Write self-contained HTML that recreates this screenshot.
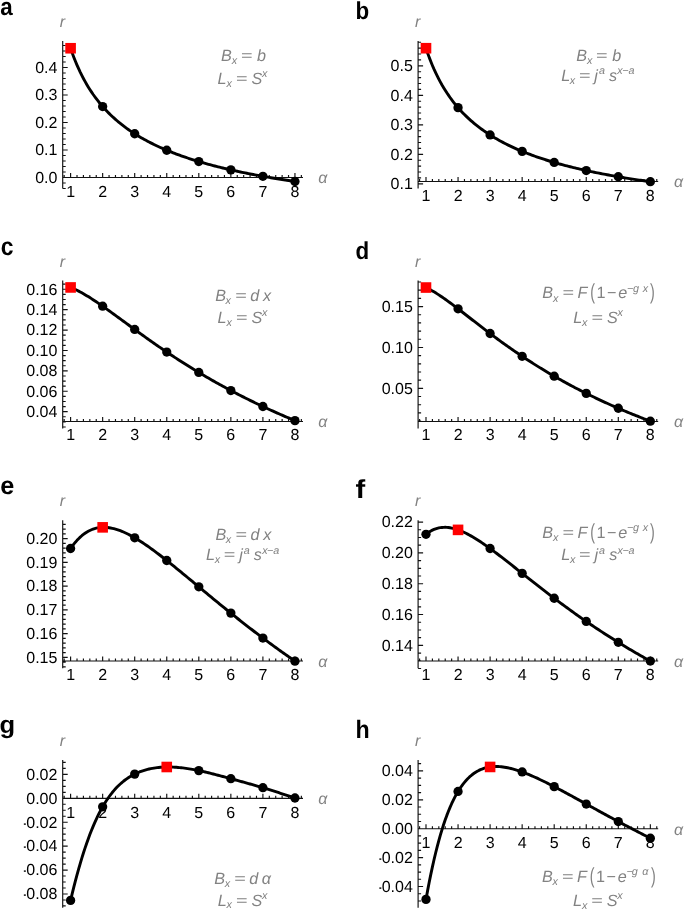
<!DOCTYPE html>
<html><head><meta charset="utf-8"><title>Figure</title>
<style>
html,body{margin:0;padding:0;background:#fff;}
svg{display:block;text-rendering:geometricPrecision;}
text{font-family:"Liberation Sans", Arial, Helvetica, sans-serif;}
.t{font-size:16.0px;fill:#000;}
.al{font-size:16px;fill:#828282;font-style:italic;}
.g{font-size:16.2px;fill:#828282;font-style:italic;}
.gu{font-size:16.2px;fill:#828282;}
.gs{font-size:10.8px;fill:#828282;font-style:italic;}
.L{font-size:24.6px;font-weight:bold;fill:#000;}
.ax{stroke:#111;stroke-width:1.15;fill:none;}
.cv{stroke:#000;stroke-width:2.9;fill:none;stroke-linejoin:round;stroke-linecap:round;}
</style></head><body>
<svg width="685" height="910" viewBox="0 0 685 910">
<rect width="685" height="910" fill="#fff"/>
<g>
<text class="L" style="font-size:24.6px" transform="translate(0.3,14.9) scale(0.91,1)">a</text>
<path class="ax" d="M62.7 40.9V188.6 M62.150000000000006 177.5H303.0 M64.19 177.5v-2.5 M70.60 177.5v-4.5 M77.01 177.5v-2.5 M83.42 177.5v-2.5 M89.83 177.5v-2.5 M96.24 177.5v-2.5 M102.65 177.5v-4.5 M109.06 177.5v-2.5 M115.47 177.5v-2.5 M121.88 177.5v-2.5 M128.29 177.5v-2.5 M134.70 177.5v-4.5 M141.11 177.5v-2.5 M147.52 177.5v-2.5 M153.93 177.5v-2.5 M160.34 177.5v-2.5 M166.75 177.5v-4.5 M173.16 177.5v-2.5 M179.57 177.5v-2.5 M185.98 177.5v-2.5 M192.39 177.5v-2.5 M198.80 177.5v-4.5 M205.21 177.5v-2.5 M211.62 177.5v-2.5 M218.03 177.5v-2.5 M224.44 177.5v-2.5 M230.85 177.5v-4.5 M237.26 177.5v-2.5 M243.67 177.5v-2.5 M250.08 177.5v-2.5 M256.49 177.5v-2.5 M262.90 177.5v-4.5 M269.31 177.5v-2.5 M275.72 177.5v-2.5 M282.13 177.5v-2.5 M288.54 177.5v-2.5 M294.95 177.5v-4.5 M301.36 177.5v-2.5 M62.7 188.50h3.0 M62.7 183.00h3.0 M62.7 177.50h5.0 M62.7 172.00h3.0 M62.7 166.50h3.0 M62.7 161.00h3.0 M62.7 155.50h3.0 M62.7 150.00h5.0 M62.7 144.50h3.0 M62.7 139.00h3.0 M62.7 133.50h3.0 M62.7 128.00h3.0 M62.7 122.50h5.0 M62.7 117.00h3.0 M62.7 111.50h3.0 M62.7 106.00h3.0 M62.7 100.50h3.0 M62.7 95.00h5.0 M62.7 89.50h3.0 M62.7 84.00h3.0 M62.7 78.50h3.0 M62.7 73.00h3.0 M62.7 67.50h5.0 M62.7 62.00h3.0 M62.7 56.50h3.0 M62.7 51.00h3.0 M62.7 45.50h3.0"/>
<text class="t" text-anchor="end" x="57.4" y="182.80">0.0</text>
<text class="t" text-anchor="end" x="57.4" y="155.30">0.1</text>
<text class="t" text-anchor="end" x="57.4" y="127.80">0.2</text>
<text class="t" text-anchor="end" x="57.4" y="100.30">0.3</text>
<text class="t" text-anchor="end" x="57.4" y="72.80">0.4</text>
<text class="t" text-anchor="middle" x="70.6" y="197">1</text>
<text class="t" text-anchor="middle" x="102.6" y="197">2</text>
<text class="t" text-anchor="middle" x="134.7" y="197">3</text>
<text class="t" text-anchor="middle" x="166.8" y="197">4</text>
<text class="t" text-anchor="middle" x="198.8" y="197">5</text>
<text class="t" text-anchor="middle" x="230.8" y="197">6</text>
<text class="t" text-anchor="middle" x="262.9" y="197">7</text>
<text class="t" text-anchor="middle" x="294.9" y="197">8</text>
<text class="al" text-anchor="middle" x="62.3" y="27">r</text>
<text class="al" text-anchor="middle" x="322.9" y="183.4">&#945;</text>
<text class="g" x="221.11" y="61">B</text>
<text class="gs" x="231.73" y="64">x</text>
<text class="gu" style="font-size:14.0px" transform="translate(240.91,60.10) scale(1.42,1.0)">=</text>
<text class="g" x="256.96" y="61">b</text>
<text class="g" x="217.61" y="84">L</text>
<text class="gs" x="226.48" y="87">x</text>
<text class="gu" style="font-size:14.0px" transform="translate(235.91,83.10) scale(1.42,1.0)">=</text>
<text class="g" x="251.40" y="84">S</text>
<text class="gs" x="261.88" y="77">x</text>
<path class="cv" d="M70.60 48.25 L72.20 52.86 L73.80 57.18 L75.41 61.25 L77.01 65.08 L78.61 68.70 L80.21 72.12 L81.82 75.37 L83.42 78.46 L85.02 81.40 L86.62 84.20 L88.23 86.88 L89.83 89.44 L91.43 91.89 L93.03 94.24 L94.64 96.49 L96.24 98.65 L97.84 100.74 L99.44 102.74 L101.05 104.67 L102.65 106.53 L104.25 108.33 L105.85 110.06 L107.46 111.74 L109.06 113.37 L110.66 114.94 L112.26 116.46 L113.87 117.94 L115.47 119.37 L117.07 120.76 L118.67 122.11 L120.28 123.42 L121.88 124.69 L123.48 125.93 L125.08 127.14 L126.69 128.31 L128.29 129.45 L129.89 130.57 L131.50 131.65 L133.10 132.71 L134.70 133.75 L136.30 134.76 L137.90 135.74 L139.51 136.70 L141.11 137.64 L142.71 138.56 L144.31 139.46 L145.92 140.34 L147.52 141.20 L149.12 142.04 L150.72 142.86 L152.33 143.67 L153.93 144.46 L155.53 145.23 L157.13 145.99 L158.74 146.73 L160.34 147.46 L161.94 148.17 L163.55 148.87 L165.15 149.56 L166.75 150.24 L168.35 150.90 L169.95 151.55 L171.56 152.19 L173.16 152.81 L174.76 153.43 L176.37 154.04 L177.97 154.63 L179.57 155.22 L181.17 155.79 L182.77 156.36 L184.38 156.91 L185.98 157.46 L187.58 158.00 L189.19 158.53 L190.79 159.05 L192.39 159.56 L193.99 160.07 L195.59 160.56 L197.20 161.05 L198.80 161.53 L200.40 162.01 L202.00 162.48 L203.61 162.94 L205.21 163.39 L206.81 163.84 L208.41 164.28 L210.02 164.72 L211.62 165.15 L213.22 165.57 L214.82 165.99 L216.43 166.40 L218.03 166.80 L219.63 167.20 L221.23 167.60 L222.84 167.99 L224.44 168.37 L226.04 168.75 L227.64 169.13 L229.25 169.50 L230.85 169.86 L232.45 170.22 L234.06 170.58 L235.66 170.93 L237.26 171.28 L238.86 171.62 L240.47 171.96 L242.07 172.30 L243.67 172.63 L245.27 172.95 L246.87 173.28 L248.48 173.60 L250.08 173.91 L251.68 174.22 L253.28 174.53 L254.89 174.84 L256.49 175.14 L258.09 175.44 L259.69 175.73 L261.30 176.02 L262.90 176.31 L264.50 176.59 L266.11 176.88 L267.71 177.16 L269.31 177.43 L270.91 177.70 L272.51 177.97 L274.12 178.24 L275.72 178.51 L277.32 178.77 L278.92 179.03 L280.53 179.28 L282.13 179.54 L283.73 179.79 L285.33 180.04 L286.94 180.28 L288.54 180.53 L290.14 180.77 L291.75 181.01 L293.35 181.24 L294.95 181.48"/>
<rect x="65.30" y="42.95" width="10.6" height="10.6" fill="#ff0000"/>
<circle cx="102.65" cy="106.53" r="4.65" fill="#000"/>
<circle cx="134.70" cy="133.75" r="4.65" fill="#000"/>
<circle cx="166.75" cy="150.24" r="4.65" fill="#000"/>
<circle cx="198.80" cy="161.53" r="4.65" fill="#000"/>
<circle cx="230.85" cy="169.86" r="4.65" fill="#000"/>
<circle cx="262.90" cy="176.31" r="4.65" fill="#000"/>
<circle cx="294.95" cy="181.48" r="4.65" fill="#000"/>
</g>
<g>
<text class="L" style="font-size:24.6px" transform="translate(355.5,19.4) scale(0.91,1)">b</text>
<path class="ax" d="M418.1 40.9V188.6 M417.55 181.5H658.2 M419.59 181.5v-2.5 M426.00 181.5v-4.5 M432.41 181.5v-2.5 M438.82 181.5v-2.5 M445.23 181.5v-2.5 M451.64 181.5v-2.5 M458.05 181.5v-4.5 M464.46 181.5v-2.5 M470.87 181.5v-2.5 M477.28 181.5v-2.5 M483.69 181.5v-2.5 M490.10 181.5v-4.5 M496.51 181.5v-2.5 M502.92 181.5v-2.5 M509.33 181.5v-2.5 M515.74 181.5v-2.5 M522.15 181.5v-4.5 M528.56 181.5v-2.5 M534.97 181.5v-2.5 M541.38 181.5v-2.5 M547.79 181.5v-2.5 M554.20 181.5v-4.5 M560.61 181.5v-2.5 M567.02 181.5v-2.5 M573.43 181.5v-2.5 M579.84 181.5v-2.5 M586.25 181.5v-4.5 M592.66 181.5v-2.5 M599.07 181.5v-2.5 M605.48 181.5v-2.5 M611.89 181.5v-2.5 M618.30 181.5v-4.5 M624.71 181.5v-2.5 M631.12 181.5v-2.5 M637.53 181.5v-2.5 M643.94 181.5v-2.5 M650.35 181.5v-4.5 M656.76 181.5v-2.5 M418.1 183.80h5.0 M418.1 177.90h3.0 M418.1 172.00h3.0 M418.1 166.10h3.0 M418.1 160.20h3.0 M418.1 154.30h5.0 M418.1 148.40h3.0 M418.1 142.50h3.0 M418.1 136.60h3.0 M418.1 130.70h3.0 M418.1 124.80h5.0 M418.1 118.90h3.0 M418.1 113.00h3.0 M418.1 107.10h3.0 M418.1 101.20h3.0 M418.1 95.30h5.0 M418.1 89.40h3.0 M418.1 83.50h3.0 M418.1 77.60h3.0 M418.1 71.70h3.0 M418.1 65.80h5.0 M418.1 59.90h3.0 M418.1 54.00h3.0 M418.1 48.10h3.0 M418.1 42.20h3.0"/>
<text class="t" text-anchor="end" x="412.8" y="189.10">0.1</text>
<text class="t" text-anchor="end" x="412.8" y="159.60">0.2</text>
<text class="t" text-anchor="end" x="412.8" y="130.10">0.3</text>
<text class="t" text-anchor="end" x="412.8" y="100.60">0.4</text>
<text class="t" text-anchor="end" x="412.8" y="71.10">0.5</text>
<text class="t" text-anchor="middle" x="426.0" y="201">1</text>
<text class="t" text-anchor="middle" x="458.1" y="201">2</text>
<text class="t" text-anchor="middle" x="490.1" y="201">3</text>
<text class="t" text-anchor="middle" x="522.1" y="201">4</text>
<text class="t" text-anchor="middle" x="554.2" y="201">5</text>
<text class="t" text-anchor="middle" x="586.2" y="201">6</text>
<text class="t" text-anchor="middle" x="618.3" y="201">7</text>
<text class="t" text-anchor="middle" x="650.3" y="201">8</text>
<text class="al" text-anchor="middle" x="417.7" y="27">r</text>
<text class="al" text-anchor="middle" x="678.5" y="187.4">&#945;</text>
<text class="g" x="576.31" y="61">B</text>
<text class="gs" x="586.93" y="64">x</text>
<text class="gu" style="font-size:14.0px" transform="translate(596.11,60.10) scale(1.42,1.0)">=</text>
<text class="g" x="612.16" y="61">b</text>
<text class="g" x="561.21" y="81">L</text>
<text class="gs" x="569.83" y="84">x</text>
<text class="gu" style="font-size:14.0px" transform="translate(579.01,80.10) scale(1.42,1.0)">=</text>
<text class="g" x="594.33" y="81">j</text>
<text class="gs" x="598.96" y="74">a</text>
<text class="g" x="609.05" y="81">s</text>
<text class="gs" x="617.33" y="74">x</text>
<text class="gs" x="622.30" y="74">&#8722;</text>
<text class="gs" x="628.46" y="74">a</text>
<path class="cv" d="M426.00 48.21 L427.60 52.94 L429.20 57.38 L430.81 61.54 L432.41 65.46 L434.01 69.16 L435.62 72.66 L437.22 75.98 L438.82 79.13 L440.42 82.12 L442.02 84.98 L443.63 87.70 L445.23 90.30 L446.83 92.79 L448.44 95.17 L450.04 97.46 L451.64 99.65 L453.24 101.76 L454.84 103.79 L456.45 105.74 L458.05 107.63 L459.65 109.44 L461.25 111.19 L462.86 112.89 L464.46 114.52 L466.06 116.11 L467.66 117.64 L469.27 119.12 L470.87 120.56 L472.47 121.96 L474.07 123.32 L475.68 124.63 L477.28 125.91 L478.88 127.15 L480.49 128.36 L482.09 129.54 L483.69 130.68 L485.29 131.79 L486.89 132.88 L488.50 133.94 L490.10 134.97 L491.70 135.98 L493.31 136.96 L494.91 137.92 L496.51 138.85 L498.11 139.77 L499.72 140.66 L501.32 141.53 L502.92 142.39 L504.52 143.22 L506.12 144.04 L507.73 144.84 L509.33 145.62 L510.93 146.39 L512.53 147.14 L514.14 147.87 L515.74 148.59 L517.34 149.30 L518.95 149.99 L520.55 150.67 L522.15 151.34 L523.75 151.99 L525.36 152.63 L526.96 153.26 L528.56 153.88 L530.16 154.48 L531.76 155.08 L533.37 155.66 L534.97 156.24 L536.57 156.80 L538.17 157.36 L539.78 157.90 L541.38 158.44 L542.98 158.97 L544.59 159.49 L546.19 160.00 L547.79 160.50 L549.39 160.99 L551.00 161.48 L552.60 161.96 L554.20 162.43 L555.80 162.89 L557.40 163.35 L559.01 163.80 L560.61 164.24 L562.21 164.68 L563.81 165.11 L565.42 165.53 L567.02 165.95 L568.62 166.36 L570.23 166.77 L571.83 167.17 L573.43 167.56 L575.03 167.95 L576.63 168.33 L578.24 168.71 L579.84 169.08 L581.44 169.45 L583.04 169.82 L584.65 170.17 L586.25 170.53 L587.85 170.88 L589.46 171.22 L591.06 171.56 L592.66 171.89 L594.26 172.23 L595.87 172.55 L597.47 172.88 L599.07 173.19 L600.67 173.51 L602.27 173.82 L603.88 174.13 L605.48 174.43 L607.08 174.73 L608.68 175.03 L610.29 175.32 L611.89 175.61 L613.49 175.90 L615.10 176.18 L616.70 176.46 L618.30 176.74 L619.90 177.01 L621.50 177.28 L623.11 177.55 L624.71 177.81 L626.31 178.07 L627.91 178.33 L629.52 178.58 L631.12 178.84 L632.72 179.09 L634.33 179.33 L635.93 179.58 L637.53 179.82 L639.13 180.06 L640.74 180.30 L642.34 180.53 L643.94 180.76 L645.54 180.99 L647.14 181.22 L648.75 181.44 L650.35 181.67"/>
<rect x="420.70" y="42.91" width="10.6" height="10.6" fill="#ff0000"/>
<circle cx="458.05" cy="107.63" r="4.65" fill="#000"/>
<circle cx="490.10" cy="134.97" r="4.65" fill="#000"/>
<circle cx="522.15" cy="151.34" r="4.65" fill="#000"/>
<circle cx="554.20" cy="162.43" r="4.65" fill="#000"/>
<circle cx="586.25" cy="170.53" r="4.65" fill="#000"/>
<circle cx="618.30" cy="176.74" r="4.65" fill="#000"/>
<circle cx="650.35" cy="181.67" r="4.65" fill="#000"/>
</g>
<g>
<text class="L" style="font-size:25.2px" transform="translate(0.8,254.6) scale(0.91,1)">c</text>
<path class="ax" d="M62.7 280.4V428.6 M62.150000000000006 421.5H303.0 M64.19 421.5v-2.5 M70.60 421.5v-4.5 M77.01 421.5v-2.5 M83.42 421.5v-2.5 M89.83 421.5v-2.5 M96.24 421.5v-2.5 M102.65 421.5v-4.5 M109.06 421.5v-2.5 M115.47 421.5v-2.5 M121.88 421.5v-2.5 M128.29 421.5v-2.5 M134.70 421.5v-4.5 M141.11 421.5v-2.5 M147.52 421.5v-2.5 M153.93 421.5v-2.5 M160.34 421.5v-2.5 M166.75 421.5v-4.5 M173.16 421.5v-2.5 M179.57 421.5v-2.5 M185.98 421.5v-2.5 M192.39 421.5v-2.5 M198.80 421.5v-4.5 M205.21 421.5v-2.5 M211.62 421.5v-2.5 M218.03 421.5v-2.5 M224.44 421.5v-2.5 M230.85 421.5v-4.5 M237.26 421.5v-2.5 M243.67 421.5v-2.5 M250.08 421.5v-2.5 M256.49 421.5v-2.5 M262.90 421.5v-4.5 M269.31 421.5v-2.5 M275.72 421.5v-2.5 M282.13 421.5v-2.5 M288.54 421.5v-2.5 M294.95 421.5v-4.5 M301.36 421.5v-2.5 M62.7 426.96h3.0 M62.7 421.86h3.0 M62.7 416.76h3.0 M62.7 411.66h5.0 M62.7 406.56h3.0 M62.7 401.46h3.0 M62.7 396.36h3.0 M62.7 391.26h5.0 M62.7 386.16h3.0 M62.7 381.06h3.0 M62.7 375.96h3.0 M62.7 370.86h5.0 M62.7 365.76h3.0 M62.7 360.66h3.0 M62.7 355.56h3.0 M62.7 350.46h5.0 M62.7 345.36h3.0 M62.7 340.26h3.0 M62.7 335.16h3.0 M62.7 330.06h5.0 M62.7 324.96h3.0 M62.7 319.86h3.0 M62.7 314.76h3.0 M62.7 309.66h5.0 M62.7 304.56h3.0 M62.7 299.46h3.0 M62.7 294.36h3.0 M62.7 289.26h5.0 M62.7 284.16h3.0"/>
<text class="t" text-anchor="end" x="57.4" y="416.96">0.04</text>
<text class="t" text-anchor="end" x="57.4" y="396.56">0.06</text>
<text class="t" text-anchor="end" x="57.4" y="376.16">0.08</text>
<text class="t" text-anchor="end" x="57.4" y="355.76">0.10</text>
<text class="t" text-anchor="end" x="57.4" y="335.36">0.12</text>
<text class="t" text-anchor="end" x="57.4" y="314.96">0.14</text>
<text class="t" text-anchor="end" x="57.4" y="294.56">0.16</text>
<text class="t" text-anchor="middle" x="70.6" y="440">1</text>
<text class="t" text-anchor="middle" x="102.6" y="440">2</text>
<text class="t" text-anchor="middle" x="134.7" y="440">3</text>
<text class="t" text-anchor="middle" x="166.8" y="440">4</text>
<text class="t" text-anchor="middle" x="198.8" y="440">5</text>
<text class="t" text-anchor="middle" x="230.8" y="440">6</text>
<text class="t" text-anchor="middle" x="262.9" y="440">7</text>
<text class="t" text-anchor="middle" x="294.9" y="440">8</text>
<text class="al" text-anchor="middle" x="62.3" y="267">r</text>
<text class="al" text-anchor="middle" x="322.9" y="427.4">&#945;</text>
<text class="g" x="215.31" y="301">B</text>
<text class="gs" x="225.53" y="304">x</text>
<text class="gu" style="font-size:14.0px" transform="translate(235.21,300.10) scale(1.42,1.0)">=</text>
<text class="g" x="250.27" y="301">d</text>
<text class="g" x="262.95" y="301">x</text>
<text class="g" x="217.61" y="323">L</text>
<text class="gs" x="226.48" y="326">x</text>
<text class="gu" style="font-size:14.0px" transform="translate(235.91,322.10) scale(1.42,1.0)">=</text>
<text class="g" x="251.40" y="323">S</text>
<text class="gs" x="261.88" y="316">x</text>
<path class="cv" d="M70.60 287.45 L72.20 288.11 L73.80 288.80 L75.41 289.54 L77.01 290.32 L78.61 291.13 L80.21 291.97 L81.82 292.84 L83.42 293.75 L85.02 294.68 L86.62 295.63 L88.23 296.61 L89.83 297.60 L91.43 298.62 L93.03 299.66 L94.64 300.71 L96.24 301.78 L97.84 302.86 L99.44 303.96 L101.05 305.06 L102.65 306.18 L104.25 307.31 L105.85 308.44 L107.46 309.59 L109.06 310.73 L110.66 311.89 L112.26 313.05 L113.87 314.22 L115.47 315.38 L117.07 316.55 L118.67 317.73 L120.28 318.90 L121.88 320.08 L123.48 321.26 L125.08 322.43 L126.69 323.61 L128.29 324.79 L129.89 325.96 L131.50 327.13 L133.10 328.30 L134.70 329.47 L136.30 330.64 L137.90 331.80 L139.51 332.96 L141.11 334.12 L142.71 335.28 L144.31 336.43 L145.92 337.57 L147.52 338.71 L149.12 339.85 L150.72 340.98 L152.33 342.11 L153.93 343.24 L155.53 344.36 L157.13 345.47 L158.74 346.58 L160.34 347.68 L161.94 348.78 L163.55 349.87 L165.15 350.96 L166.75 352.04 L168.35 353.12 L169.95 354.19 L171.56 355.25 L173.16 356.31 L174.76 357.36 L176.37 358.41 L177.97 359.45 L179.57 360.48 L181.17 361.51 L182.77 362.54 L184.38 363.56 L185.98 364.57 L187.58 365.57 L189.19 366.57 L190.79 367.57 L192.39 368.55 L193.99 369.54 L195.59 370.51 L197.20 371.48 L198.80 372.45 L200.40 373.41 L202.00 374.36 L203.61 375.31 L205.21 376.25 L206.81 377.18 L208.41 378.11 L210.02 379.04 L211.62 379.95 L213.22 380.87 L214.82 381.77 L216.43 382.67 L218.03 383.57 L219.63 384.46 L221.23 385.34 L222.84 386.22 L224.44 387.10 L226.04 387.96 L227.64 388.83 L229.25 389.68 L230.85 390.53 L232.45 391.38 L234.06 392.22 L235.66 393.06 L237.26 393.89 L238.86 394.71 L240.47 395.54 L242.07 396.35 L243.67 397.16 L245.27 397.97 L246.87 398.77 L248.48 399.56 L250.08 400.35 L251.68 401.14 L253.28 401.92 L254.89 402.70 L256.49 403.47 L258.09 404.23 L259.69 405.00 L261.30 405.75 L262.90 406.50 L264.50 407.25 L266.11 408.00 L267.71 408.74 L269.31 409.47 L270.91 410.20 L272.51 410.93 L274.12 411.65 L275.72 412.36 L277.32 413.08 L278.92 413.79 L280.53 414.49 L282.13 415.19 L283.73 415.89 L285.33 416.58 L286.94 417.26 L288.54 417.95 L290.14 418.63 L291.75 419.30 L293.35 419.97 L294.95 420.64"/>
<rect x="65.30" y="282.15" width="10.6" height="10.6" fill="#ff0000"/>
<circle cx="102.65" cy="306.18" r="4.65" fill="#000"/>
<circle cx="134.70" cy="329.47" r="4.65" fill="#000"/>
<circle cx="166.75" cy="352.04" r="4.65" fill="#000"/>
<circle cx="198.80" cy="372.45" r="4.65" fill="#000"/>
<circle cx="230.85" cy="390.53" r="4.65" fill="#000"/>
<circle cx="262.90" cy="406.50" r="4.65" fill="#000"/>
<circle cx="294.95" cy="420.64" r="4.65" fill="#000"/>
</g>
<g>
<text class="L" style="font-size:24.6px" transform="translate(355.5,259.4) scale(0.91,1)">d</text>
<path class="ax" d="M418.1 280.4V428.6 M417.55 421.5H658.2 M419.59 421.5v-2.5 M426.00 421.5v-4.5 M432.41 421.5v-2.5 M438.82 421.5v-2.5 M445.23 421.5v-2.5 M451.64 421.5v-2.5 M458.05 421.5v-4.5 M464.46 421.5v-2.5 M470.87 421.5v-2.5 M477.28 421.5v-2.5 M483.69 421.5v-2.5 M490.10 421.5v-4.5 M496.51 421.5v-2.5 M502.92 421.5v-2.5 M509.33 421.5v-2.5 M515.74 421.5v-2.5 M522.15 421.5v-4.5 M528.56 421.5v-2.5 M534.97 421.5v-2.5 M541.38 421.5v-2.5 M547.79 421.5v-2.5 M554.20 421.5v-4.5 M560.61 421.5v-2.5 M567.02 421.5v-2.5 M573.43 421.5v-2.5 M579.84 421.5v-2.5 M586.25 421.5v-4.5 M592.66 421.5v-2.5 M599.07 421.5v-2.5 M605.48 421.5v-2.5 M611.89 421.5v-2.5 M618.30 421.5v-4.5 M624.71 421.5v-2.5 M631.12 421.5v-2.5 M637.53 421.5v-2.5 M643.94 421.5v-2.5 M650.35 421.5v-4.5 M656.76 421.5v-2.5 M418.1 421.07h3.0 M418.1 412.89h3.0 M418.1 404.71h3.0 M418.1 396.53h3.0 M418.1 388.35h5.0 M418.1 380.17h3.0 M418.1 371.99h3.0 M418.1 363.81h3.0 M418.1 355.63h3.0 M418.1 347.45h5.0 M418.1 339.27h3.0 M418.1 331.09h3.0 M418.1 322.91h3.0 M418.1 314.73h3.0 M418.1 306.55h5.0 M418.1 298.37h3.0 M418.1 290.19h3.0 M418.1 282.01h3.0"/>
<text class="t" text-anchor="end" x="412.8" y="393.65">0.05</text>
<text class="t" text-anchor="end" x="412.8" y="352.75">0.10</text>
<text class="t" text-anchor="end" x="412.8" y="311.85">0.15</text>
<text class="t" text-anchor="middle" x="426.0" y="440">1</text>
<text class="t" text-anchor="middle" x="458.1" y="440">2</text>
<text class="t" text-anchor="middle" x="490.1" y="440">3</text>
<text class="t" text-anchor="middle" x="522.1" y="440">4</text>
<text class="t" text-anchor="middle" x="554.2" y="440">5</text>
<text class="t" text-anchor="middle" x="586.2" y="440">6</text>
<text class="t" text-anchor="middle" x="618.3" y="440">7</text>
<text class="t" text-anchor="middle" x="650.3" y="440">8</text>
<text class="al" text-anchor="middle" x="417.7" y="267">r</text>
<text class="al" text-anchor="middle" x="678.5" y="427.4">&#945;</text>
<text class="g" x="542.31" y="298">B</text>
<text class="gs" x="552.93" y="302">x</text>
<text class="gu" style="font-size:14.0px" transform="translate(562.51,297.10) scale(1.42,1.0)">=</text>
<text class="g" x="577.51" y="298">F</text>
<text class="gu" transform="translate(590.32,298.90) scale(0.88,1.34)">(</text>
<text class="gu" x="596.49" y="298">1</text>
<text class="gu" x="606.89" y="298">&#8722;</text>
<text class="g" x="618.17" y="298">e</text>
<text class="gs" x="627.00" y="292">&#8722;</text>
<text class="gs" x="633.07" y="292">g</text>
<text class="gs" x="642.83" y="292">x</text>
<text class="gu" transform="translate(650.10,298.90) scale(0.88,1.34)">)</text>
<text class="g" x="573.21" y="323">L</text>
<text class="gs" x="582.08" y="326">x</text>
<text class="gu" style="font-size:14.0px" transform="translate(591.51,322.10) scale(1.42,1.0)">=</text>
<text class="g" x="607.00" y="323">S</text>
<text class="gs" x="617.48" y="316">x</text>
<path class="cv" d="M426.00 287.54 L427.60 288.32 L429.20 289.15 L430.81 290.02 L432.41 290.93 L434.01 291.87 L435.62 292.85 L437.22 293.86 L438.82 294.89 L440.42 295.96 L442.02 297.04 L443.63 298.15 L445.23 299.28 L446.83 300.43 L448.44 301.59 L450.04 302.76 L451.64 303.95 L453.24 305.15 L454.84 306.36 L456.45 307.58 L458.05 308.80 L459.65 310.03 L461.25 311.27 L462.86 312.51 L464.46 313.75 L466.06 315.00 L467.66 316.24 L469.27 317.49 L470.87 318.74 L472.47 319.98 L474.07 321.23 L475.68 322.47 L477.28 323.71 L478.88 324.95 L480.49 326.19 L482.09 327.42 L483.69 328.65 L485.29 329.87 L486.89 331.09 L488.50 332.30 L490.10 333.51 L491.70 334.71 L493.31 335.91 L494.91 337.10 L496.51 338.28 L498.11 339.46 L499.72 340.63 L501.32 341.80 L502.92 342.95 L504.52 344.10 L506.12 345.25 L507.73 346.39 L509.33 347.52 L510.93 348.64 L512.53 349.76 L514.14 350.87 L515.74 351.97 L517.34 353.06 L518.95 354.15 L520.55 355.23 L522.15 356.30 L523.75 357.36 L525.36 358.42 L526.96 359.47 L528.56 360.51 L530.16 361.55 L531.76 362.58 L533.37 363.60 L534.97 364.61 L536.57 365.62 L538.17 366.61 L539.78 367.61 L541.38 368.59 L542.98 369.57 L544.59 370.54 L546.19 371.50 L547.79 372.45 L549.39 373.40 L551.00 374.34 L552.60 375.28 L554.20 376.21 L555.80 377.13 L557.40 378.04 L559.01 378.95 L560.61 379.85 L562.21 380.74 L563.81 381.63 L565.42 382.51 L567.02 383.39 L568.62 384.25 L570.23 385.12 L571.83 385.97 L573.43 386.82 L575.03 387.66 L576.63 388.50 L578.24 389.33 L579.84 390.15 L581.44 390.97 L583.04 391.78 L584.65 392.59 L586.25 393.39 L587.85 394.19 L589.46 394.98 L591.06 395.76 L592.66 396.54 L594.26 397.31 L595.87 398.08 L597.47 398.84 L599.07 399.59 L600.67 400.34 L602.27 401.09 L603.88 401.83 L605.48 402.56 L607.08 403.29 L608.68 404.01 L610.29 404.73 L611.89 405.45 L613.49 406.16 L615.10 406.86 L616.70 407.56 L618.30 408.25 L619.90 408.94 L621.50 409.63 L623.11 410.31 L624.71 410.98 L626.31 411.65 L627.91 412.32 L629.52 412.98 L631.12 413.64 L632.72 414.29 L634.33 414.94 L635.93 415.58 L637.53 416.22 L639.13 416.86 L640.74 417.49 L642.34 418.11 L643.94 418.74 L645.54 419.36 L647.14 419.97 L648.75 420.58 L650.35 421.19"/>
<rect x="420.70" y="282.24" width="10.6" height="10.6" fill="#ff0000"/>
<circle cx="458.05" cy="308.80" r="4.65" fill="#000"/>
<circle cx="490.10" cy="333.51" r="4.65" fill="#000"/>
<circle cx="522.15" cy="356.30" r="4.65" fill="#000"/>
<circle cx="554.20" cy="376.21" r="4.65" fill="#000"/>
<circle cx="586.25" cy="393.39" r="4.65" fill="#000"/>
<circle cx="618.30" cy="408.25" r="4.65" fill="#000"/>
<circle cx="650.35" cy="421.19" r="4.65" fill="#000"/>
</g>
<g>
<text class="L" style="font-size:25.2px" transform="translate(0.3,493.9) scale(1.0,1)">e</text>
<path class="ax" d="M62.7 520.3V668.2 M62.150000000000006 661.0H303.0 M64.19 661.0v-2.5 M70.60 661.0v-4.5 M77.01 661.0v-2.5 M83.42 661.0v-2.5 M89.83 661.0v-2.5 M96.24 661.0v-2.5 M102.65 661.0v-4.5 M109.06 661.0v-2.5 M115.47 661.0v-2.5 M121.88 661.0v-2.5 M128.29 661.0v-2.5 M134.70 661.0v-4.5 M141.11 661.0v-2.5 M147.52 661.0v-2.5 M153.93 661.0v-2.5 M160.34 661.0v-2.5 M166.75 661.0v-4.5 M173.16 661.0v-2.5 M179.57 661.0v-2.5 M185.98 661.0v-2.5 M192.39 661.0v-2.5 M198.80 661.0v-4.5 M205.21 661.0v-2.5 M211.62 661.0v-2.5 M218.03 661.0v-2.5 M224.44 661.0v-2.5 M230.85 661.0v-4.5 M237.26 661.0v-2.5 M243.67 661.0v-2.5 M250.08 661.0v-2.5 M256.49 661.0v-2.5 M262.90 661.0v-4.5 M269.31 661.0v-2.5 M275.72 661.0v-2.5 M282.13 661.0v-2.5 M288.54 661.0v-2.5 M294.95 661.0v-4.5 M301.36 661.0v-2.5 M62.7 666.85h3.0 M62.7 662.10h3.0 M62.7 657.35h5.0 M62.7 652.60h3.0 M62.7 647.85h3.0 M62.7 643.10h3.0 M62.7 638.35h3.0 M62.7 633.60h5.0 M62.7 628.85h3.0 M62.7 624.10h3.0 M62.7 619.35h3.0 M62.7 614.60h3.0 M62.7 609.85h5.0 M62.7 605.10h3.0 M62.7 600.35h3.0 M62.7 595.60h3.0 M62.7 590.85h3.0 M62.7 586.10h5.0 M62.7 581.35h3.0 M62.7 576.60h3.0 M62.7 571.85h3.0 M62.7 567.10h3.0 M62.7 562.35h5.0 M62.7 557.60h3.0 M62.7 552.85h3.0 M62.7 548.10h3.0 M62.7 543.35h3.0 M62.7 538.60h5.0 M62.7 533.85h3.0 M62.7 529.10h3.0 M62.7 524.35h3.0"/>
<text class="t" text-anchor="end" x="57.4" y="662.65">0.15</text>
<text class="t" text-anchor="end" x="57.4" y="638.90">0.16</text>
<text class="t" text-anchor="end" x="57.4" y="615.15">0.17</text>
<text class="t" text-anchor="end" x="57.4" y="591.40">0.18</text>
<text class="t" text-anchor="end" x="57.4" y="567.65">0.19</text>
<text class="t" text-anchor="end" x="57.4" y="543.90">0.20</text>
<text class="t" text-anchor="middle" x="70.6" y="680">1</text>
<text class="t" text-anchor="middle" x="102.6" y="680">2</text>
<text class="t" text-anchor="middle" x="134.7" y="680">3</text>
<text class="t" text-anchor="middle" x="166.8" y="680">4</text>
<text class="t" text-anchor="middle" x="198.8" y="680">5</text>
<text class="t" text-anchor="middle" x="230.8" y="680">6</text>
<text class="t" text-anchor="middle" x="262.9" y="680">7</text>
<text class="t" text-anchor="middle" x="294.9" y="680">8</text>
<text class="al" text-anchor="middle" x="62.3" y="506">r</text>
<text class="al" text-anchor="middle" x="322.9" y="666.9">&#945;</text>
<text class="g" x="215.51" y="540">B</text>
<text class="gs" x="225.73" y="543">x</text>
<text class="gu" style="font-size:14.0px" transform="translate(235.41,539.10) scale(1.42,1.0)">=</text>
<text class="g" x="250.47" y="540">d</text>
<text class="g" x="263.15" y="540">x</text>
<text class="g" x="206.01" y="560">L</text>
<text class="gs" x="214.63" y="563">x</text>
<text class="gu" style="font-size:14.0px" transform="translate(223.81,559.10) scale(1.42,1.0)">=</text>
<text class="g" x="239.13" y="560">j</text>
<text class="gs" x="243.76" y="554">a</text>
<text class="g" x="253.85" y="560">s</text>
<text class="gs" x="262.13" y="554">x</text>
<text class="gs" x="267.10" y="554">&#8722;</text>
<text class="gs" x="273.26" y="554">a</text>
<path class="cv" d="M70.60 548.49 L72.20 546.24 L73.80 544.13 L75.41 542.17 L77.01 540.36 L78.61 538.68 L80.21 537.14 L81.82 535.73 L83.42 534.44 L85.02 533.28 L86.62 532.23 L88.23 531.30 L89.83 530.47 L91.43 529.76 L93.03 529.14 L94.64 528.62 L96.24 528.19 L97.84 527.86 L99.44 527.61 L101.05 527.44 L102.65 527.35 L104.25 527.34 L105.85 527.40 L107.46 527.53 L109.06 527.73 L110.66 527.99 L112.26 528.31 L113.87 528.69 L115.47 529.12 L117.07 529.60 L118.67 530.14 L120.28 530.72 L121.88 531.35 L123.48 532.03 L125.08 532.74 L126.69 533.49 L128.29 534.28 L129.89 535.11 L131.50 535.97 L133.10 536.86 L134.70 537.78 L136.30 538.73 L137.90 539.71 L139.51 540.71 L141.11 541.73 L142.71 542.78 L144.31 543.85 L145.92 544.95 L147.52 546.06 L149.12 547.19 L150.72 548.33 L152.33 549.49 L153.93 550.67 L155.53 551.86 L157.13 553.06 L158.74 554.28 L160.34 555.51 L161.94 556.75 L163.55 558.00 L165.15 559.25 L166.75 560.52 L168.35 561.79 L169.95 563.08 L171.56 564.36 L173.16 565.66 L174.76 566.96 L176.37 568.26 L177.97 569.57 L179.57 570.89 L181.17 572.20 L182.77 573.52 L184.38 574.85 L185.98 576.17 L187.58 577.50 L189.19 578.83 L190.79 580.16 L192.39 581.49 L193.99 582.83 L195.59 584.16 L197.20 585.49 L198.80 586.82 L200.40 588.16 L202.00 589.49 L203.61 590.82 L205.21 592.15 L206.81 593.48 L208.41 594.80 L210.02 596.13 L211.62 597.45 L213.22 598.77 L214.82 600.09 L216.43 601.41 L218.03 602.72 L219.63 604.03 L221.23 605.34 L222.84 606.65 L224.44 607.95 L226.04 609.25 L227.64 610.54 L229.25 611.83 L230.85 613.12 L232.45 614.41 L234.06 615.69 L235.66 616.97 L237.26 618.24 L238.86 619.51 L240.47 620.78 L242.07 622.04 L243.67 623.29 L245.27 624.55 L246.87 625.80 L248.48 627.04 L250.08 628.28 L251.68 629.52 L253.28 630.75 L254.89 631.98 L256.49 633.20 L258.09 634.42 L259.69 635.63 L261.30 636.84 L262.90 638.04 L264.50 639.24 L266.11 640.44 L267.71 641.63 L269.31 642.82 L270.91 644.00 L272.51 645.17 L274.12 646.34 L275.72 647.51 L277.32 648.67 L278.92 649.83 L280.53 650.98 L282.13 652.13 L283.73 653.28 L285.33 654.41 L286.94 655.55 L288.54 656.68 L290.14 657.80 L291.75 658.92 L293.35 660.03 L294.95 661.14"/>
<circle cx="70.60" cy="548.49" r="4.65" fill="#000"/>
<rect x="97.35" y="522.05" width="10.6" height="10.6" fill="#ff0000"/>
<circle cx="134.70" cy="537.78" r="4.65" fill="#000"/>
<circle cx="166.75" cy="560.52" r="4.65" fill="#000"/>
<circle cx="198.80" cy="586.82" r="4.65" fill="#000"/>
<circle cx="230.85" cy="613.12" r="4.65" fill="#000"/>
<circle cx="262.90" cy="638.04" r="4.65" fill="#000"/>
<circle cx="294.95" cy="661.14" r="4.65" fill="#000"/>
</g>
<g>
<text class="L" style="font-size:26.0px" transform="translate(355.5,498.3) scale(1.12,1)">f</text>
<path class="ax" d="M418.1 520.3V668.2 M417.55 661.0H658.2 M419.59 661.0v-2.5 M426.00 661.0v-4.5 M432.41 661.0v-2.5 M438.82 661.0v-2.5 M445.23 661.0v-2.5 M451.64 661.0v-2.5 M458.05 661.0v-4.5 M464.46 661.0v-2.5 M470.87 661.0v-2.5 M477.28 661.0v-2.5 M483.69 661.0v-2.5 M490.10 661.0v-4.5 M496.51 661.0v-2.5 M502.92 661.0v-2.5 M509.33 661.0v-2.5 M515.74 661.0v-2.5 M522.15 661.0v-4.5 M528.56 661.0v-2.5 M534.97 661.0v-2.5 M541.38 661.0v-2.5 M547.79 661.0v-2.5 M554.20 661.0v-4.5 M560.61 661.0v-2.5 M567.02 661.0v-2.5 M573.43 661.0v-2.5 M579.84 661.0v-2.5 M586.25 661.0v-4.5 M592.66 661.0v-2.5 M599.07 661.0v-2.5 M605.48 661.0v-2.5 M611.89 661.0v-2.5 M618.30 661.0v-4.5 M624.71 661.0v-2.5 M631.12 661.0v-2.5 M637.53 661.0v-2.5 M643.94 661.0v-2.5 M650.35 661.0v-4.5 M656.76 661.0v-2.5 M418.1 668.48h3.0 M418.1 660.77h3.0 M418.1 653.06h3.0 M418.1 645.36h5.0 M418.1 637.65h3.0 M418.1 629.95h3.0 M418.1 622.25h3.0 M418.1 614.54h5.0 M418.1 606.84h3.0 M418.1 599.13h3.0 M418.1 591.42h3.0 M418.1 583.72h5.0 M418.1 576.01h3.0 M418.1 568.31h3.0 M418.1 560.61h3.0 M418.1 552.90h5.0 M418.1 545.19h3.0 M418.1 537.49h3.0 M418.1 529.78h3.0 M418.1 522.08h5.0"/>
<text class="t" text-anchor="end" x="412.8" y="650.66">0.14</text>
<text class="t" text-anchor="end" x="412.8" y="619.84">0.16</text>
<text class="t" text-anchor="end" x="412.8" y="589.02">0.18</text>
<text class="t" text-anchor="end" x="412.8" y="558.20">0.20</text>
<text class="t" text-anchor="end" x="412.8" y="527.38">0.22</text>
<text class="t" text-anchor="middle" x="426.0" y="680">1</text>
<text class="t" text-anchor="middle" x="458.1" y="680">2</text>
<text class="t" text-anchor="middle" x="490.1" y="680">3</text>
<text class="t" text-anchor="middle" x="522.1" y="680">4</text>
<text class="t" text-anchor="middle" x="554.2" y="680">5</text>
<text class="t" text-anchor="middle" x="586.2" y="680">6</text>
<text class="t" text-anchor="middle" x="618.3" y="680">7</text>
<text class="t" text-anchor="middle" x="650.3" y="680">8</text>
<text class="al" text-anchor="middle" x="417.7" y="506">r</text>
<text class="al" text-anchor="middle" x="678.5" y="666.9">&#945;</text>
<text class="g" x="542.31" y="538">B</text>
<text class="gs" x="552.93" y="541">x</text>
<text class="gu" style="font-size:14.0px" transform="translate(562.51,537.10) scale(1.42,1.0)">=</text>
<text class="g" x="577.51" y="538">F</text>
<text class="gu" transform="translate(590.32,538.90) scale(0.88,1.34)">(</text>
<text class="gu" x="596.49" y="538">1</text>
<text class="gu" x="606.89" y="538">&#8722;</text>
<text class="g" x="618.17" y="538">e</text>
<text class="gs" x="627.00" y="531">&#8722;</text>
<text class="gs" x="633.07" y="531">g</text>
<text class="gs" x="642.83" y="531">x</text>
<text class="gu" transform="translate(650.10,538.90) scale(0.88,1.34)">)</text>
<text class="g" x="561.31" y="560">L</text>
<text class="gs" x="569.93" y="563">x</text>
<text class="gu" style="font-size:14.0px" transform="translate(579.11,559.10) scale(1.42,1.0)">=</text>
<text class="g" x="594.43" y="560">j</text>
<text class="gs" x="599.06" y="554">a</text>
<text class="g" x="609.15" y="560">s</text>
<text class="gs" x="617.43" y="554">x</text>
<text class="gs" x="622.40" y="554">&#8722;</text>
<text class="gs" x="628.56" y="554">a</text>
<path class="cv" d="M426.00 534.28 L427.60 533.04 L429.20 531.94 L430.81 530.97 L432.41 530.13 L434.01 529.40 L435.62 528.80 L437.22 528.30 L438.82 527.91 L440.42 527.63 L442.02 527.43 L443.63 527.33 L445.23 527.32 L446.83 527.39 L448.44 527.54 L450.04 527.76 L451.64 528.06 L453.24 528.42 L454.84 528.84 L456.45 529.33 L458.05 529.87 L459.65 530.46 L461.25 531.10 L462.86 531.80 L464.46 532.53 L466.06 533.31 L467.66 534.12 L469.27 534.98 L470.87 535.87 L472.47 536.79 L474.07 537.74 L475.68 538.72 L477.28 539.72 L478.88 540.75 L480.49 541.80 L482.09 542.88 L483.69 543.97 L485.29 545.08 L486.89 546.21 L488.50 547.36 L490.10 548.52 L491.70 549.69 L493.31 550.88 L494.91 552.07 L496.51 553.28 L498.11 554.50 L499.72 555.72 L501.32 556.95 L502.92 558.19 L504.52 559.43 L506.12 560.68 L507.73 561.94 L509.33 563.20 L510.93 564.46 L512.53 565.72 L514.14 566.99 L515.74 568.26 L517.34 569.53 L518.95 570.79 L520.55 572.07 L522.15 573.34 L523.75 574.61 L525.36 575.87 L526.96 577.14 L528.56 578.41 L530.16 579.67 L531.76 580.93 L533.37 582.19 L534.97 583.45 L536.57 584.71 L538.17 585.96 L539.78 587.21 L541.38 588.45 L542.98 589.69 L544.59 590.93 L546.19 592.16 L547.79 593.39 L549.39 594.62 L551.00 595.84 L552.60 597.06 L554.20 598.27 L555.80 599.48 L557.40 600.68 L559.01 601.88 L560.61 603.07 L562.21 604.25 L563.81 605.44 L565.42 606.61 L567.02 607.79 L568.62 608.95 L570.23 610.11 L571.83 611.27 L573.43 612.42 L575.03 613.56 L576.63 614.70 L578.24 615.83 L579.84 616.96 L581.44 618.08 L583.04 619.20 L584.65 620.31 L586.25 621.42 L587.85 622.52 L589.46 623.61 L591.06 624.70 L592.66 625.78 L594.26 626.86 L595.87 627.93 L597.47 628.99 L599.07 630.05 L600.67 631.11 L602.27 632.16 L603.88 633.20 L605.48 634.24 L607.08 635.27 L608.68 636.29 L610.29 637.31 L611.89 638.33 L613.49 639.34 L615.10 640.34 L616.70 641.34 L618.30 642.33 L619.90 643.32 L621.50 644.30 L623.11 645.28 L624.71 646.25 L626.31 647.21 L627.91 648.17 L629.52 649.13 L631.12 650.08 L632.72 651.02 L634.33 651.96 L635.93 652.89 L637.53 653.82 L639.13 654.75 L640.74 655.66 L642.34 656.58 L643.94 657.48 L645.54 658.39 L647.14 659.28 L648.75 660.18 L650.35 661.07"/>
<circle cx="426.00" cy="534.28" r="4.65" fill="#000"/>
<rect x="452.75" y="524.57" width="10.6" height="10.6" fill="#ff0000"/>
<circle cx="490.10" cy="548.52" r="4.65" fill="#000"/>
<circle cx="522.15" cy="573.34" r="4.65" fill="#000"/>
<circle cx="554.20" cy="598.27" r="4.65" fill="#000"/>
<circle cx="586.25" cy="621.42" r="4.65" fill="#000"/>
<circle cx="618.30" cy="642.33" r="4.65" fill="#000"/>
<circle cx="650.35" cy="661.07" r="4.65" fill="#000"/>
</g>
<g>
<text class="L" style="font-size:24.6px" transform="translate(-0.4,732.9) scale(1.04,1)">g</text>
<path class="ax" d="M62.7 760.0V907.8 M62.150000000000006 798.3H303.0 M64.19 798.3v-2.5 M70.60 798.3v-4.5 M77.01 798.3v-2.5 M83.42 798.3v-2.5 M89.83 798.3v-2.5 M96.24 798.3v-2.5 M102.65 798.3v-4.5 M109.06 798.3v-2.5 M115.47 798.3v-2.5 M121.88 798.3v-2.5 M128.29 798.3v-2.5 M134.70 798.3v-4.5 M141.11 798.3v-2.5 M147.52 798.3v-2.5 M153.93 798.3v-2.5 M160.34 798.3v-2.5 M166.75 798.3v-4.5 M173.16 798.3v-2.5 M179.57 798.3v-2.5 M185.98 798.3v-2.5 M192.39 798.3v-2.5 M198.80 798.3v-4.5 M205.21 798.3v-2.5 M211.62 798.3v-2.5 M218.03 798.3v-2.5 M224.44 798.3v-2.5 M230.85 798.3v-4.5 M237.26 798.3v-2.5 M243.67 798.3v-2.5 M250.08 798.3v-2.5 M256.49 798.3v-2.5 M262.90 798.3v-4.5 M269.31 798.3v-2.5 M275.72 798.3v-2.5 M282.13 798.3v-2.5 M288.54 798.3v-2.5 M294.95 798.3v-4.5 M301.36 798.3v-2.5 M62.7 905.94h3.0 M62.7 899.96h3.0 M62.7 893.98h5.0 M62.7 888.00h3.0 M62.7 882.02h3.0 M62.7 876.04h3.0 M62.7 870.06h5.0 M62.7 864.08h3.0 M62.7 858.10h3.0 M62.7 852.12h3.0 M62.7 846.14h5.0 M62.7 840.16h3.0 M62.7 834.18h3.0 M62.7 828.20h3.0 M62.7 822.22h5.0 M62.7 816.24h3.0 M62.7 810.26h3.0 M62.7 804.28h3.0 M62.7 798.30h5.0 M62.7 792.32h3.0 M62.7 786.34h3.0 M62.7 780.36h3.0 M62.7 774.38h5.0 M62.7 768.40h3.0 M62.7 762.42h3.0"/>
<text class="t" text-anchor="end" x="57.4" y="899.28">0.08</text>
<text class="t" transform="translate(23.50,899.60) scale(0.5,1.15)">-</text>
<text class="t" text-anchor="end" x="57.4" y="875.36">0.06</text>
<text class="t" transform="translate(23.50,875.60) scale(0.5,1.15)">-</text>
<text class="t" text-anchor="end" x="57.4" y="851.44">0.04</text>
<text class="t" transform="translate(23.50,851.60) scale(0.5,1.15)">-</text>
<text class="t" text-anchor="end" x="57.4" y="827.52">0.02</text>
<text class="t" transform="translate(23.50,828.60) scale(0.5,1.15)">-</text>
<text class="t" text-anchor="end" x="57.4" y="803.60">0.00</text>
<text class="t" text-anchor="end" x="57.4" y="779.68">0.02</text>
<text class="t" text-anchor="middle" x="70.6" y="818">1</text>
<text class="t" text-anchor="middle" x="102.6" y="818">2</text>
<text class="t" text-anchor="middle" x="134.7" y="818">3</text>
<text class="t" text-anchor="middle" x="166.8" y="818">4</text>
<text class="t" text-anchor="middle" x="198.8" y="818">5</text>
<text class="t" text-anchor="middle" x="230.8" y="818">6</text>
<text class="t" text-anchor="middle" x="262.9" y="818">7</text>
<text class="t" text-anchor="middle" x="294.9" y="818">8</text>
<text class="al" text-anchor="middle" x="62.3" y="746">r</text>
<text class="al" text-anchor="middle" x="322.9" y="804.2">&#945;</text>
<text class="g" x="214.31" y="884">B</text>
<text class="gs" x="224.63" y="887">x</text>
<text class="gu" style="font-size:14.0px" transform="translate(234.21,883.10) scale(1.42,1.0)">=</text>
<text class="g" x="249.27" y="884">d</text>
<text class="g" x="261.73" y="884">&#945;</text>
<text class="g" x="217.71" y="906">L</text>
<text class="gs" x="226.58" y="908">x</text>
<text class="gu" style="font-size:14.0px" transform="translate(236.01,905.10) scale(1.42,1.0)">=</text>
<text class="g" x="251.50" y="906">S</text>
<text class="gs" x="261.98" y="899">x</text>
<path class="cv" d="M70.60 900.40 L72.20 893.69 L73.80 887.21 L75.41 880.95 L77.01 874.92 L78.61 869.12 L80.21 863.54 L81.82 858.18 L83.42 853.05 L85.02 848.12 L86.62 843.41 L88.23 838.91 L89.83 834.60 L91.43 830.49 L93.03 826.58 L94.64 822.85 L96.24 819.30 L97.84 815.92 L99.44 812.72 L101.05 809.68 L102.65 806.80 L104.25 804.07 L105.85 801.50 L107.46 799.06 L109.06 796.76 L110.66 794.59 L112.26 792.54 L113.87 790.61 L115.47 788.80 L117.07 787.09 L118.67 785.49 L120.28 783.98 L121.88 782.57 L123.48 781.25 L125.08 780.01 L126.69 778.85 L128.29 777.76 L129.89 776.75 L131.50 775.80 L133.10 774.92 L134.70 774.10 L136.30 773.34 L137.90 772.63 L139.51 771.97 L141.11 771.36 L142.71 770.80 L144.31 770.29 L145.92 769.82 L147.52 769.39 L149.12 769.00 L150.72 768.65 L152.33 768.34 L153.93 768.06 L155.53 767.82 L157.13 767.62 L158.74 767.44 L160.34 767.29 L161.94 767.18 L163.55 767.09 L165.15 767.03 L166.75 767.00 L168.35 766.99 L169.95 767.01 L171.56 767.05 L173.16 767.12 L174.76 767.20 L176.37 767.31 L177.97 767.44 L179.57 767.58 L181.17 767.75 L182.77 767.93 L184.38 768.13 L185.98 768.35 L187.58 768.58 L189.19 768.83 L190.79 769.09 L192.39 769.37 L193.99 769.65 L195.59 769.96 L197.20 770.27 L198.80 770.60 L200.40 770.94 L202.00 771.29 L203.61 771.65 L205.21 772.02 L206.81 772.40 L208.41 772.78 L210.02 773.18 L211.62 773.58 L213.22 773.98 L214.82 774.40 L216.43 774.81 L218.03 775.24 L219.63 775.66 L221.23 776.09 L222.84 776.52 L224.44 776.95 L226.04 777.39 L227.64 777.83 L229.25 778.26 L230.85 778.70 L232.45 779.14 L234.06 779.57 L235.66 780.01 L237.26 780.45 L238.86 780.88 L240.47 781.32 L242.07 781.76 L243.67 782.20 L245.27 782.64 L246.87 783.09 L248.48 783.54 L250.08 783.98 L251.68 784.44 L253.28 784.89 L254.89 785.35 L256.49 785.81 L258.09 786.28 L259.69 786.75 L261.30 787.22 L262.90 787.70 L264.50 788.18 L266.11 788.67 L267.71 789.17 L269.31 789.67 L270.91 790.17 L272.51 790.68 L274.12 791.19 L275.72 791.70 L277.32 792.22 L278.92 792.74 L280.53 793.26 L282.13 793.78 L283.73 794.30 L285.33 794.83 L286.94 795.36 L288.54 795.89 L290.14 796.41 L291.75 796.94 L293.35 797.47 L294.95 798.00"/>
<circle cx="70.60" cy="900.40" r="4.65" fill="#000"/>
<circle cx="102.65" cy="806.80" r="4.65" fill="#000"/>
<circle cx="134.70" cy="774.10" r="4.65" fill="#000"/>
<rect x="161.45" y="761.70" width="10.6" height="10.6" fill="#ff0000"/>
<circle cx="198.80" cy="770.60" r="4.65" fill="#000"/>
<circle cx="230.85" cy="778.70" r="4.65" fill="#000"/>
<circle cx="262.90" cy="787.70" r="4.65" fill="#000"/>
<circle cx="294.95" cy="798.00" r="4.65" fill="#000"/>
</g>
<g>
<text class="L" style="font-size:25.2px" transform="translate(355.5,738.0) scale(0.92,1)">h</text>
<path class="ax" d="M418.1 760.0V907.8 M417.55 828.7H658.2 M419.59 828.7v-2.5 M426.00 828.7v-4.5 M432.41 828.7v-2.5 M438.82 828.7v-2.5 M445.23 828.7v-2.5 M451.64 828.7v-2.5 M458.05 828.7v-4.5 M464.46 828.7v-2.5 M470.87 828.7v-2.5 M477.28 828.7v-2.5 M483.69 828.7v-2.5 M490.10 828.7v-4.5 M496.51 828.7v-2.5 M502.92 828.7v-2.5 M509.33 828.7v-2.5 M515.74 828.7v-2.5 M522.15 828.7v-4.5 M528.56 828.7v-2.5 M534.97 828.7v-2.5 M541.38 828.7v-2.5 M547.79 828.7v-2.5 M554.20 828.7v-4.5 M560.61 828.7v-2.5 M567.02 828.7v-2.5 M573.43 828.7v-2.5 M579.84 828.7v-2.5 M586.25 828.7v-4.5 M592.66 828.7v-2.5 M599.07 828.7v-2.5 M605.48 828.7v-2.5 M611.89 828.7v-2.5 M618.30 828.7v-4.5 M624.71 828.7v-2.5 M631.12 828.7v-2.5 M637.53 828.7v-2.5 M643.94 828.7v-2.5 M650.35 828.7v-4.5 M656.76 828.7v-2.5 M418.1 900.95h3.0 M418.1 893.73h3.0 M418.1 886.50h5.0 M418.1 879.28h3.0 M418.1 872.05h3.0 M418.1 864.83h3.0 M418.1 857.60h5.0 M418.1 850.38h3.0 M418.1 843.15h3.0 M418.1 835.93h3.0 M418.1 828.70h5.0 M418.1 821.48h3.0 M418.1 814.25h3.0 M418.1 807.03h3.0 M418.1 799.80h5.0 M418.1 792.58h3.0 M418.1 785.35h3.0 M418.1 778.12h3.0 M418.1 770.90h5.0 M418.1 763.68h3.0"/>
<text class="t" text-anchor="end" x="412.8" y="891.80">0.04</text>
<text class="t" transform="translate(378.90,892.60) scale(0.5,1.15)">-</text>
<text class="t" text-anchor="end" x="412.8" y="862.90">0.02</text>
<text class="t" transform="translate(378.90,863.60) scale(0.5,1.15)">-</text>
<text class="t" text-anchor="end" x="412.8" y="834.00">0.00</text>
<text class="t" text-anchor="end" x="412.8" y="805.10">0.02</text>
<text class="t" text-anchor="end" x="412.8" y="776.20">0.04</text>
<text class="t" text-anchor="middle" x="426.0" y="848">1</text>
<text class="t" text-anchor="middle" x="458.1" y="848">2</text>
<text class="t" text-anchor="middle" x="490.1" y="848">3</text>
<text class="t" text-anchor="middle" x="522.1" y="848">4</text>
<text class="t" text-anchor="middle" x="554.2" y="848">5</text>
<text class="t" text-anchor="middle" x="586.2" y="848">6</text>
<text class="t" text-anchor="middle" x="618.3" y="848">7</text>
<text class="t" text-anchor="middle" x="650.3" y="848">8</text>
<text class="al" text-anchor="middle" x="417.7" y="746">r</text>
<text class="al" text-anchor="middle" x="678.5" y="834.6">&#945;</text>
<text class="g" x="542.01" y="882">B</text>
<text class="gs" x="552.43" y="885">x</text>
<text class="gu" style="font-size:14.0px" transform="translate(562.01,881.10) scale(1.42,1.0)">=</text>
<text class="g" x="577.01" y="882">F</text>
<text class="gu" transform="translate(589.82,882.90) scale(0.88,1.34)">(</text>
<text class="gu" x="595.88" y="882">1</text>
<text class="gu" x="606.49" y="882">&#8722;</text>
<text class="g" x="617.77" y="882">e</text>
<text class="gs" x="626.40" y="875">&#8722;</text>
<text class="gs" x="631.77" y="875">g</text>
<text class="gs" x="642.32" y="875">&#945;</text>
<text class="gu" transform="translate(651.00,882.90) scale(0.88,1.34)">)</text>
<text class="g" x="573.01" y="906">L</text>
<text class="gs" x="581.88" y="909">x</text>
<text class="gu" style="font-size:14.0px" transform="translate(591.31,905.10) scale(1.42,1.0)">=</text>
<text class="g" x="606.80" y="906">S</text>
<text class="gs" x="617.28" y="899">x</text>
<path class="cv" d="M426.00 899.39 L427.60 890.63 L429.20 882.29 L430.81 874.37 L432.41 866.85 L434.01 859.72 L435.62 852.98 L437.22 846.60 L438.82 840.59 L440.42 834.91 L442.02 829.57 L443.63 824.54 L445.23 819.82 L446.83 815.39 L448.44 811.23 L450.04 807.34 L451.64 803.71 L453.24 800.31 L454.84 797.14 L456.45 794.19 L458.05 791.44 L459.65 788.89 L461.25 786.53 L462.86 784.35 L464.46 782.33 L466.06 780.47 L467.66 778.76 L469.27 777.20 L470.87 775.77 L472.47 774.47 L474.07 773.29 L475.68 772.23 L477.28 771.28 L478.88 770.43 L480.49 769.67 L482.09 769.01 L483.69 768.44 L485.29 767.96 L486.89 767.55 L488.50 767.21 L490.10 766.95 L491.70 766.75 L493.31 766.62 L494.91 766.55 L496.51 766.53 L498.11 766.57 L499.72 766.66 L501.32 766.79 L502.92 766.98 L504.52 767.20 L506.12 767.47 L507.73 767.77 L509.33 768.11 L510.93 768.49 L512.53 768.90 L514.14 769.34 L515.74 769.81 L517.34 770.31 L518.95 770.83 L520.55 771.38 L522.15 771.95 L523.75 772.54 L525.36 773.16 L526.96 773.79 L528.56 774.44 L530.16 775.11 L531.76 775.80 L533.37 776.50 L534.97 777.21 L536.57 777.94 L538.17 778.68 L539.78 779.44 L541.38 780.20 L542.98 780.98 L544.59 781.76 L546.19 782.56 L547.79 783.36 L549.39 784.17 L551.00 784.99 L552.60 785.82 L554.20 786.65 L555.80 787.49 L557.40 788.33 L559.01 789.18 L560.61 790.03 L562.21 790.89 L563.81 791.75 L565.42 792.62 L567.02 793.48 L568.62 794.36 L570.23 795.23 L571.83 796.10 L573.43 796.98 L575.03 797.86 L576.63 798.74 L578.24 799.62 L579.84 800.51 L581.44 801.39 L583.04 802.28 L584.65 803.16 L586.25 804.04 L587.85 804.93 L589.46 805.81 L591.06 806.70 L592.66 807.58 L594.26 808.46 L595.87 809.35 L597.47 810.23 L599.07 811.11 L600.67 811.99 L602.27 812.86 L603.88 813.74 L605.48 814.61 L607.08 815.49 L608.68 816.36 L610.29 817.23 L611.89 818.09 L613.49 818.96 L615.10 819.82 L616.70 820.68 L618.30 821.54 L619.90 822.40 L621.50 823.25 L623.11 824.11 L624.71 824.96 L626.31 825.80 L627.91 826.65 L629.52 827.49 L631.12 828.33 L632.72 829.16 L634.33 830.00 L635.93 830.83 L637.53 831.66 L639.13 832.48 L640.74 833.31 L642.34 834.13 L643.94 834.94 L645.54 835.76 L647.14 836.57 L648.75 837.38 L650.35 838.18"/>
<circle cx="426.00" cy="899.39" r="4.65" fill="#000"/>
<circle cx="458.05" cy="791.44" r="4.65" fill="#000"/>
<rect x="484.80" y="761.65" width="10.6" height="10.6" fill="#ff0000"/>
<circle cx="522.15" cy="771.95" r="4.65" fill="#000"/>
<circle cx="554.20" cy="786.65" r="4.65" fill="#000"/>
<circle cx="586.25" cy="804.04" r="4.65" fill="#000"/>
<circle cx="618.30" cy="821.54" r="4.65" fill="#000"/>
<circle cx="650.35" cy="838.18" r="4.65" fill="#000"/>
</g>
</svg>
</body></html>
